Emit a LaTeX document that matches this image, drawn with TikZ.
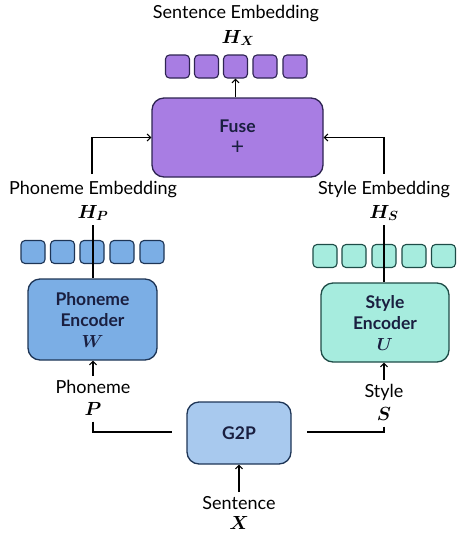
\documentclass[tikz,border=0pt]{standalone}
\usepackage{fix-cm}
\usepackage{fontspec}
\setmainfont{Lato}
\usepackage{bm}
\usetikzlibrary{arrows.meta}
\definecolor{purpfill}{HTML}{A87DE3}
\definecolor{purpline}{HTML}{2E2452}
\definecolor{bluefill}{HTML}{7BAEE5}
\definecolor{blueline}{HTML}{1E3556}
\definecolor{lbluefill}{HTML}{A8C9EE}
\definecolor{tealfill}{HTML}{A6ECDE}
\definecolor{tealline}{HTML}{1E4C47}
\definecolor{boxtext}{HTML}{1A1F40}
\tikzset{
  lbl/.style={inner sep=0pt, font=\fontsize{18}{21}\selectfont, text=black},
  mlbl/.style={inner sep=0pt, font=\fontsize{19}{21}\selectfont},
  bigbox/.style={draw, line width=1.3pt, rounded corners=12pt, inner sep=0pt, align=center,
     font=\fontsize{17.5}{21}\selectfont\bfseries, text=boxtext},
  sq/.style={draw, line width=1.1pt, rounded corners=4pt, minimum width=24pt, minimum height=23pt, inner sep=0pt},
  conn/.style={line width=1.1pt, draw=black},
  arr/.style={conn, -{Straight Barb[length=3.5pt,width=7pt]}},
}
\begin{document}
\begin{tikzpicture}[x=1pt,y=-1pt]
\useasboundingbox (0,0) rectangle (460,539);
% top
\node[lbl] (sentemb) at (236,14) {Sentence Embedding};
\node[mlbl] (hx) at (238,38) {$\bm{H}_{\bm{X}}$};
\foreach \i/\x in {1/177.5,2/206.5,3/235.5,4/265,5/295}
  \node[sq, fill=purpfill, draw=purpline] (px\i) at (\x,66.5) {};
\node[bigbox, fill=purpfill, draw=purpline, minimum width=171pt, minimum height=79pt] (fuse) at (237.5,137.5) {Fuse\\[1pt]{\mdseries\fontsize{23}{21}\selectfont +}};
% left branch
\node[lbl] (phemb) at (93,190) {Phoneme Embedding};
\node[mlbl] (hp) at (93,213) {$\bm{H}_{\bm{P}}$};
\foreach \i/\x in {1/33,2/62.5,3/92,4/122,5/152}
  \node[sq, fill=bluefill, draw=blueline] (pp\i) at (\x,252) {};
\node[bigbox, fill=bluefill, draw=blueline, minimum width=129pt, minimum height=81pt] (penc) at (92.5,319.5) {Phoneme\\Encoder\\$\bm{W}$};
\node[lbl] (phon) at (93,387) {Phoneme};
\node[mlbl] (pv) at (93,409) {$\bm{P}$};
% right branch
\node[lbl] (stemb) at (384,190) {Style Embedding};
\node[mlbl] (hs) at (384,213) {$\bm{H}_{\bm{S}}$};
\foreach \i/\x in {1/325,2/354,3/384,4/414,5/443.5}
  \node[sq, fill=tealfill, draw=tealline] (ps\i) at (\x,256) {};
\node[bigbox, fill=tealfill, draw=tealline, minimum width=128pt, minimum height=79pt] (senc) at (385,322.5) {Style\\Encoder\\$\bm{U}$};
\node[lbl] (style) at (384,392) {Style};
\node[mlbl] (sv) at (384,414) {$\bm{S}$};
% bottom
\node[bigbox, fill=lbluefill, draw=blueline, minimum width=104pt, minimum height=62pt] (g2p) at (239,433) {G2P};
\node[lbl] (sent) at (239,503) {Sentence};
\node[mlbl] (xv) at (239,523) {$\bm{X}$};
% coordinates
\coordinate (lstart) at (92,174);
\coordinate (rstart) at (384,174);
\coordinate (lend) at (172,432);
\coordinate (rend) at (307,432);
% connectors
\draw[arr] (fuse.north -| px3) -- (px3.south);
\draw[arr] (lstart) |- (fuse.west);
\draw[arr] (rstart) |- (fuse.east);
\draw[conn] ([yshift=-4pt]hp.south) -- (penc.north -| hp);
\draw[conn] ([yshift=-4pt]hs.south) -- (senc.north -| hs);
\draw[arr] ([yshift=4pt]phon.north) -- (penc.south -| phon);
\draw[arr] ([yshift=4pt]style.north) -- (senc.south -| style);
\draw[conn] ([yshift=-6pt]pv.south) |- (lend);
\draw[conn] ([yshift=-6pt]sv.south) |- (rend);
\draw[arr] ([yshift=4pt]sent.north) -- (g2p.south);
\end{tikzpicture}
\end{document}
